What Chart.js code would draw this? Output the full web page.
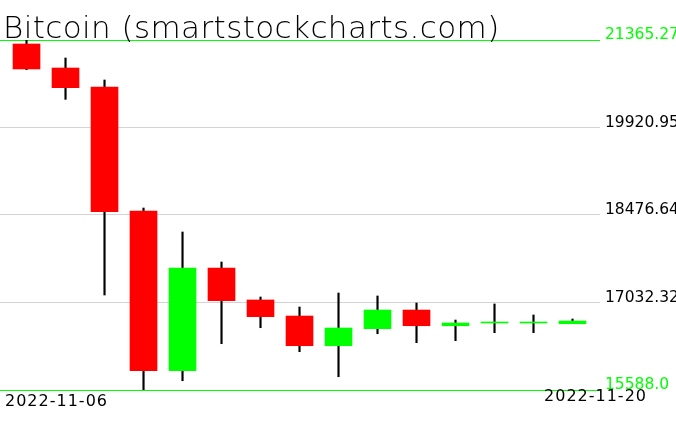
<!DOCTYPE html>
<html><head><meta charset="utf-8">
<script src="https://cdn.jsdelivr.net/npm/chart.js@4/dist/chart.umd.min.js"></script>
<style>html,body{margin:0;padding:0;background:#fff;overflow:hidden;}</style>
</head><body>
<canvas id="c" width="676" height="431"></canvas>
<script>
const title = 'Bitcoin (smartstockcharts.com)';
const dates = ['2022-11-06','2022-11-07','2022-11-08','2022-11-09','2022-11-10','2022-11-11','2022-11-12','2022-11-13','2022-11-14','2022-11-15','2022-11-16','2022-11-17','2022-11-18','2022-11-19','2022-11-20'];
const openP  = [21299, 20903, 20589, 18543, 15907, 17602, 17074, 16809, 16319, 16600, 16908, 16649, 16694, 16694, 16682];
const highP  = [21365.27, 21068, 20705, 18592, 18196, 17701, 17123, 16958, 17189, 17140, 17024, 16743, 17008, 16826, 16760];
const lowP   = [20875, 20386, 17156, 15588.0, 15741, 16352, 16616, 16220, 15807, 16517, 16369, 16402, 16534, 16534, 16682];
const closeP = [20887, 20578, 18531, 15907, 17602, 17062, 16798, 16319, 16611, 16908, 16649, 16694, 16694, 16694, 16727];
const yTicks = [15588.0, 17032.32, 18476.64, 19920.95, 21365.27];
const yTickLabels = ['15588.0', '17032.32', '18476.64', '19920.95', '21365.27'];

const UP = '#00ff00', DOWN = '#ff0000', GRID = '#d3d3d3';
const colors = closeP.map((c, i) => c >= openP[i] ? UP : DOWN);
const bodies = dates.map((d, i) => ({x: i, y: [openP[i], closeP[i]]}));
const wicks = dates.map((d, i) => ({x: i, y: [lowP[i], highP[i]]}));

const textPlugin = {
  id: 'texts',
  afterDraw(chart) {
    const ctx = chart.ctx;
    ctx.save();
    ctx.fillStyle = '#000';
    ctx.textBaseline = 'alphabetic';
    ctx.textAlign = 'left';
    ctx.font = "200 31px 'DejaVu Sans'";
    try { ctx.letterSpacing = '0.4px'; } catch (e) {}
    ctx.fillText(title, 3, 38);
    ctx.font = "16px 'DejaVu Sans'";
    try { ctx.letterSpacing = '1px'; } catch (e) {}
    ctx.fillText(dates[0], 5, 406);
    ctx.textAlign = 'right';
    ctx.fillText(dates[dates.length - 1], 647, 401);
    ctx.restore();
  }
};

new Chart(document.getElementById('c'), {
  type: 'bar',
  data: {
    datasets: [
      {data: bodies, backgroundColor: colors, barThickness: 27, minBarLength: 1, grouped: false, borderWidth: 0},
      {data: wicks, backgroundColor: '#000', barThickness: 1.5, grouped: false, borderWidth: 0}
    ]
  },
  options: {
    responsive: false,
    animation: false,
    devicePixelRatio: 1,
    layout: {padding: {top: 40, bottom: 41, left: 0, right: 0}},
    plugins: {legend: {display: false}, tooltip: {enabled: false}, title: {display: false}},
    scales: {
      x: {type: 'linear', offset: false, min: -0.68, max: 14.705, display: false},
      y: {
        type: 'linear',
        position: 'right',
        min: yTicks[0],
        max: yTicks[yTicks.length - 1],
        afterBuildTicks: s => { s.ticks = yTicks.map(v => ({value: v})); },
        afterFit: s => { s.width = 76; },
        border: {display: false},
        grid: {
          color: c => (c.index === 0 || c.index === yTicks.length - 1) ? UP : GRID,
          lineWidth: 1,
          drawTicks: false
        },
        ticks: {
          autoSkip: false,
          callback: (v, i) => yTickLabels[i],
          color: c => (c.index === 0 || c.index === yTicks.length - 1) ? UP : '#000',
          font: {family: 'DejaVu Sans', size: 15.5},
          padding: 5,
          labelOffset: -5
        }
      }
    }
  },
  plugins: [textPlugin]
});
</script>
</body></html>
